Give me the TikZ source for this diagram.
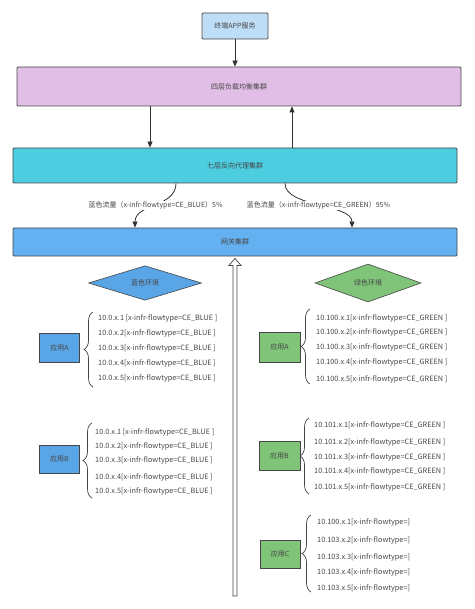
\documentclass[tikz,border=0pt]{standalone}
\usepackage[rgb]{xcolor}
\usepackage{fontspec}
\setmainfont{Noto Sans CJK SC}
\usetikzlibrary{arrows.meta,shapes.geometric,decorations.pathreplacing}

\definecolor{appblue}{RGB}{190,222,248}
\definecolor{lbpurple}{RGB}{225,190,230}
\definecolor{proxycyan}{RGB}{76,205,224}
\definecolor{gwblue}{RGB}{99,177,240}
\definecolor{envblue}{RGB}{90,165,230}
\definecolor{envgreen}{RGB}{128,196,122}
\definecolor{edgegray}{RGB}{70,70,70}
\definecolor{textgray}{RGB}{70,70,70}

\begin{document}
\begin{tikzpicture}[x=1pt, y=-1pt,
  every node/.style={font=\fontsize{7}{8}\selectfont, text=textgray},
  cluster/.style={draw=edgegray, line width=0.8pt, rounded corners=1pt, inner sep=0pt},
  envdiamond/.style={diamond, draw=edgegray, line width=0.6pt, inner sep=0pt},
  appbox/.style={draw=edgegray, line width=0.6pt, inner sep=0pt,
    minimum width=40pt, minimum height=29pt},
  ipline/.style={anchor=west, inner sep=0pt, font=\fontsize{7.3}{8}\selectfont},
  flow/.style={draw=black!80, line width=0.8pt, -{Triangle[length=6pt, width=5pt]}},
  hollowarrow/.style={draw=edgegray, line width=0.7pt, fill=white},
  bracket/.style={draw=edgegray, line width=0.7pt, decorate,
    decoration={brace, amplitude=9pt, aspect=0.5}}
]
\useasboundingbox (0,0) rectangle (474,609);

% the layers from the client down to the gateway
\path
(235,26) node [cluster, fill=appblue, minimum width=66pt, minimum height=26pt] (app) {终端APP服务}
(239,86.5) node [cluster, fill=lbpurple, minimum width=444pt, minimum height=39pt] (lb) {四层负载均衡集群}
(235,165.5) node [cluster, fill=proxycyan, minimum width=444pt, minimum height=35pt] (proxy) {七层反向代理集群}
(235,242) node [cluster, fill=gwblue, minimum width=444pt, minimum height=28pt] (gw) {网关集群};

\coordinate (downx) at (150,0);
\coordinate (upx) at (292,0);
\coordinate (blueout) at (176,0);
\coordinate (bluein) at (135,0);
\coordinate (greenout) at (285,0);
\coordinate (greenin) at (352,0);

\draw[flow] (app.south) -- (app.south |- lb.north);
\draw[flow] (lb.south -| downx) -- (proxy.north -| downx);
\draw[flow] (proxy.north -| upx) -- (lb.south -| upx);

%% traffic split, label sits on the curve
\draw[flow] (proxy.south -| blueout) .. controls +(0,24) and +(0,-24) .. (gw.north -| bluein)
  node [midway, fill=white, inner sep=1pt] {蓝色流量（x-infr-flowtype=CE\_BLUE）5\%};
\draw[flow] (proxy.south -| greenout) .. controls +(0,24) and +(0,-24) .. (gw.north -| greenin)
  node [midway, fill=white, inner sep=1pt] {蓝色流量（x-infr-flowtype=CE\_GREEN）95\%};

%% return path up the middle, drawn as a hollow arrow
\coordinate (railbottom) at (235,596);
\draw[hollowarrow] ([shift={(-2,0)}]railbottom) -- ([shift={(-2,9)}]gw.south)
  -- ([shift={(-6,9)}]gw.south) -- ([shift={(0,2)}]gw.south)
  -- ([shift={(6,9)}]gw.south) -- ([shift={(2,9)}]gw.south)
  -- ([shift={(2,0)}]railbottom) -- cycle;

%% blue environment
\path
(145,283) node [envdiamond, fill=envblue, minimum width=113pt, minimum height=34pt] (blueenv) {蓝色环境}
(59.5,347.5) node [appbox, fill=envblue] (blueA) {应用A}
(59.5,459) node [appbox, fill=envblue, minimum height=28pt] (blueB) {应用B};

\foreach \y [count=\i] in {318,333,348,363,378}
  \node [ipline] (blueAip\i) at (98,\y) {10.0.x.\i\ifnum\i=1\ \fi[x-infr-flowtype=CE\_BLUE ]};
\foreach \y [count=\i] in {432,446,460,477,491}
  \node [ipline] (blueBip\i) at (95,\y) {10.0.x.\i\ifnum\i=1\ \fi[x-infr-flowtype=CE\_BLUE ]};

\coordinate (bAlow) at (93,387);  \coordinate (bAhigh) at (93,312);
\coordinate (bBlow) at (92,498);  \coordinate (bBhigh) at (92,423);
\draw[bracket] (bAlow) -- (bAhigh);
\draw[bracket] (bBlow) -- (bBhigh);

%% green environment
\path
(368,283) node [envdiamond, fill=envgreen, minimum width=106pt, minimum height=38pt] (greenenv) {绿色环境}
(279.5,347) node [appbox, fill=envgreen, minimum width=41pt, minimum height=30pt] (greenA) {应用A}
(279.5,455.5) node [appbox, fill=envgreen, minimum width=41pt] (greenB) {应用B}
(280,554) node [appbox, fill=envgreen, minimum height=28pt] (greenC) {应用C};

\foreach \y [count=\i] in {318,332,347,362,379}
  \node [ipline] (greenAip\i) at (316,\y) {10.100.x.\i[x-infr-flowtype=CE\_GREEN ]};
\foreach \y [count=\i] in {425,442,457,471,487}
  \node [ipline] (greenBip\i) at (314,\y) {10.101.x.\i[x-infr-flowtype=CE\_GREEN ]};
\foreach \y [count=\i] in {522,540,557,572,588}
  \node [ipline] (greenCip\i) at (317,\y) {10.\ifnum\i=1 100\else 103\fi.x.\i[x-infr-flowtype=]};

\coordinate (gAlow) at (310,384);  \coordinate (gAhigh) at (310,309);
\coordinate (gBlow) at (309,494);  \coordinate (gBhigh) at (309,418);
\coordinate (gClow) at (311,592);  \coordinate (gChigh) at (311,515);
\draw[bracket] (gAlow) -- (gAhigh);
\draw[bracket] (gBlow) -- (gBhigh);
\draw[bracket] (gClow) -- (gChigh);

\end{tikzpicture}
\end{document}
